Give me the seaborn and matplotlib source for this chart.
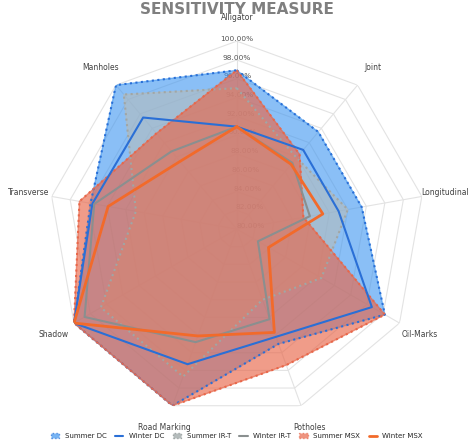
import numpy as np
import matplotlib
matplotlib.use('Agg')
import matplotlib.pyplot as plt
import seaborn as sns
from matplotlib.patches import Patch
from matplotlib.lines import Line2D

sns.set_theme(style="white")
plt.rcParams['font.family'] = ['DejaVu Sans']

categories = ['Alligator', 'Joint', 'Longitudinal', 'Oil-Marks', 'Potholes',
              'Road Marking', 'Shadow', 'Transverse', 'Manholes']
summer_dc = [96.9, 93.5, 93.5, 98.2, 93.0, 100.0, 100.0, 95.8, 100.0]
winter_dc = [90.9, 91.0, 91.0, 96.6, 92.2, 95.3, 100.0, 95.6, 95.5]
summer_irt = [95.0, 89.9, 92.0, 90.4, 88.0, 96.7, 96.7, 90.9, 98.7]
winter_irt = [90.9, 89.2, 87.9, 82.6, 90.2, 92.8, 98.7, 95.4, 90.8]
summer_msx = [96.9, 90.4, 87.2, 98.2, 95.4, 100.0, 100.0, 97.0, 93.3]
winter_msx = [90.9, 89.0, 89.3, 83.9, 91.7, 92.1, 100.0, 93.9, 89.4]
r_ticks = [80, 82, 84, 86, 88, 90, 92, 94, 96, 98, 100]

n = len(categories)
angles = np.linspace(0, 2 * np.pi, n, endpoint=False)
ang_c = np.append(angles, angles[0])

fig = plt.figure(figsize=(4.74, 4.41), dpi=100)
ax = fig.add_axes([0.103, 0.054, 0.793, 0.853], projection='polar')
ax.set_theta_zero_location('N')
ax.set_theta_direction(-1)
ax.set_ylim(80, 100)
ax.grid(False)
ax.spines['polar'].set_visible(False)

# polygon grid like Excel
for r in r_ticks:
    ax.plot(ang_c, [r] * (n + 1), color='#e3e3e3', lw=0.8, zorder=0)
for a in angles:
    ax.plot([a, a], [80, 100], color='#e3e3e3', lw=0.8, zorder=0)

def close(v):
    return list(v) + [v[0]]

ax.fill(ang_c, close(summer_dc), color='#3d95f0', alpha=0.6, zorder=1)
ax.plot(ang_c, close(summer_dc), color='#2a6fd6', lw=1.5, ls=':', zorder=2)
ax.fill(ang_c, close(summer_irt), color='#b5bcbc', alpha=0.6, zorder=1)
ax.plot(ang_c, close(summer_irt), color='#a0a6a6', lw=1.5, ls=':', zorder=2)
ax.fill(ang_c, close(summer_msx), color='#e8674a', alpha=0.65, zorder=1)
ax.plot(ang_c, close(summer_msx), color='#e8674a', lw=1.5, ls=':', zorder=2)
ax.plot(ang_c, close(winter_dc), color='#2a6fd6', lw=1.5, zorder=3)
ax.plot(ang_c, close(winter_irt), color='#8a8f8f', lw=1.5, zorder=3)
ax.plot(ang_c, close(winter_msx), color='#f26a2a', lw=2, zorder=3)

ax.set_xticks(angles)
ax.set_xticklabels(categories, fontsize=5.5, color='#404040')
ax.tick_params(axis='x', pad=4)
ax.set_yticks(r_ticks)
ax.set_yticklabels([f'{r:.2f}%' for r in r_ticks], fontsize=5.3, color='#555555')
ax.set_rlabel_position(-5)
for t in ax.get_yticklabels():
    t.set_zorder(5)

fig.suptitle('SENSITIVITY MEASURE', fontsize=11, fontweight='bold', color='#7f7f7f', y=0.995)

handles = [
    Patch(facecolor='#3d95f0', edgecolor='#2a6fd6', ls=':', alpha=0.7, label='Summer DC'),
    Line2D([], [], color='#2a6fd6', lw=1.5, label='Winter DC'),
    Patch(facecolor='#b5bcbc', edgecolor='#a0a6a6', ls=':', label='Summer IR-T'),
    Line2D([], [], color='#8a8f8f', lw=1.5, label='Winter IR-T'),
    Patch(facecolor='#e8674a', edgecolor='#e8674a', ls=':', alpha=0.7, label='Summer MSX'),
    Line2D([], [], color='#f26a2a', lw=2, label='Winter MSX'),
]
fig.legend(handles=handles, loc='lower center', ncol=6, fontsize=5, frameon=False,
           bbox_to_anchor=(0.5, -0.01), handlelength=1.2, columnspacing=1.2)

plt.savefig('out.png', dpi=100)
